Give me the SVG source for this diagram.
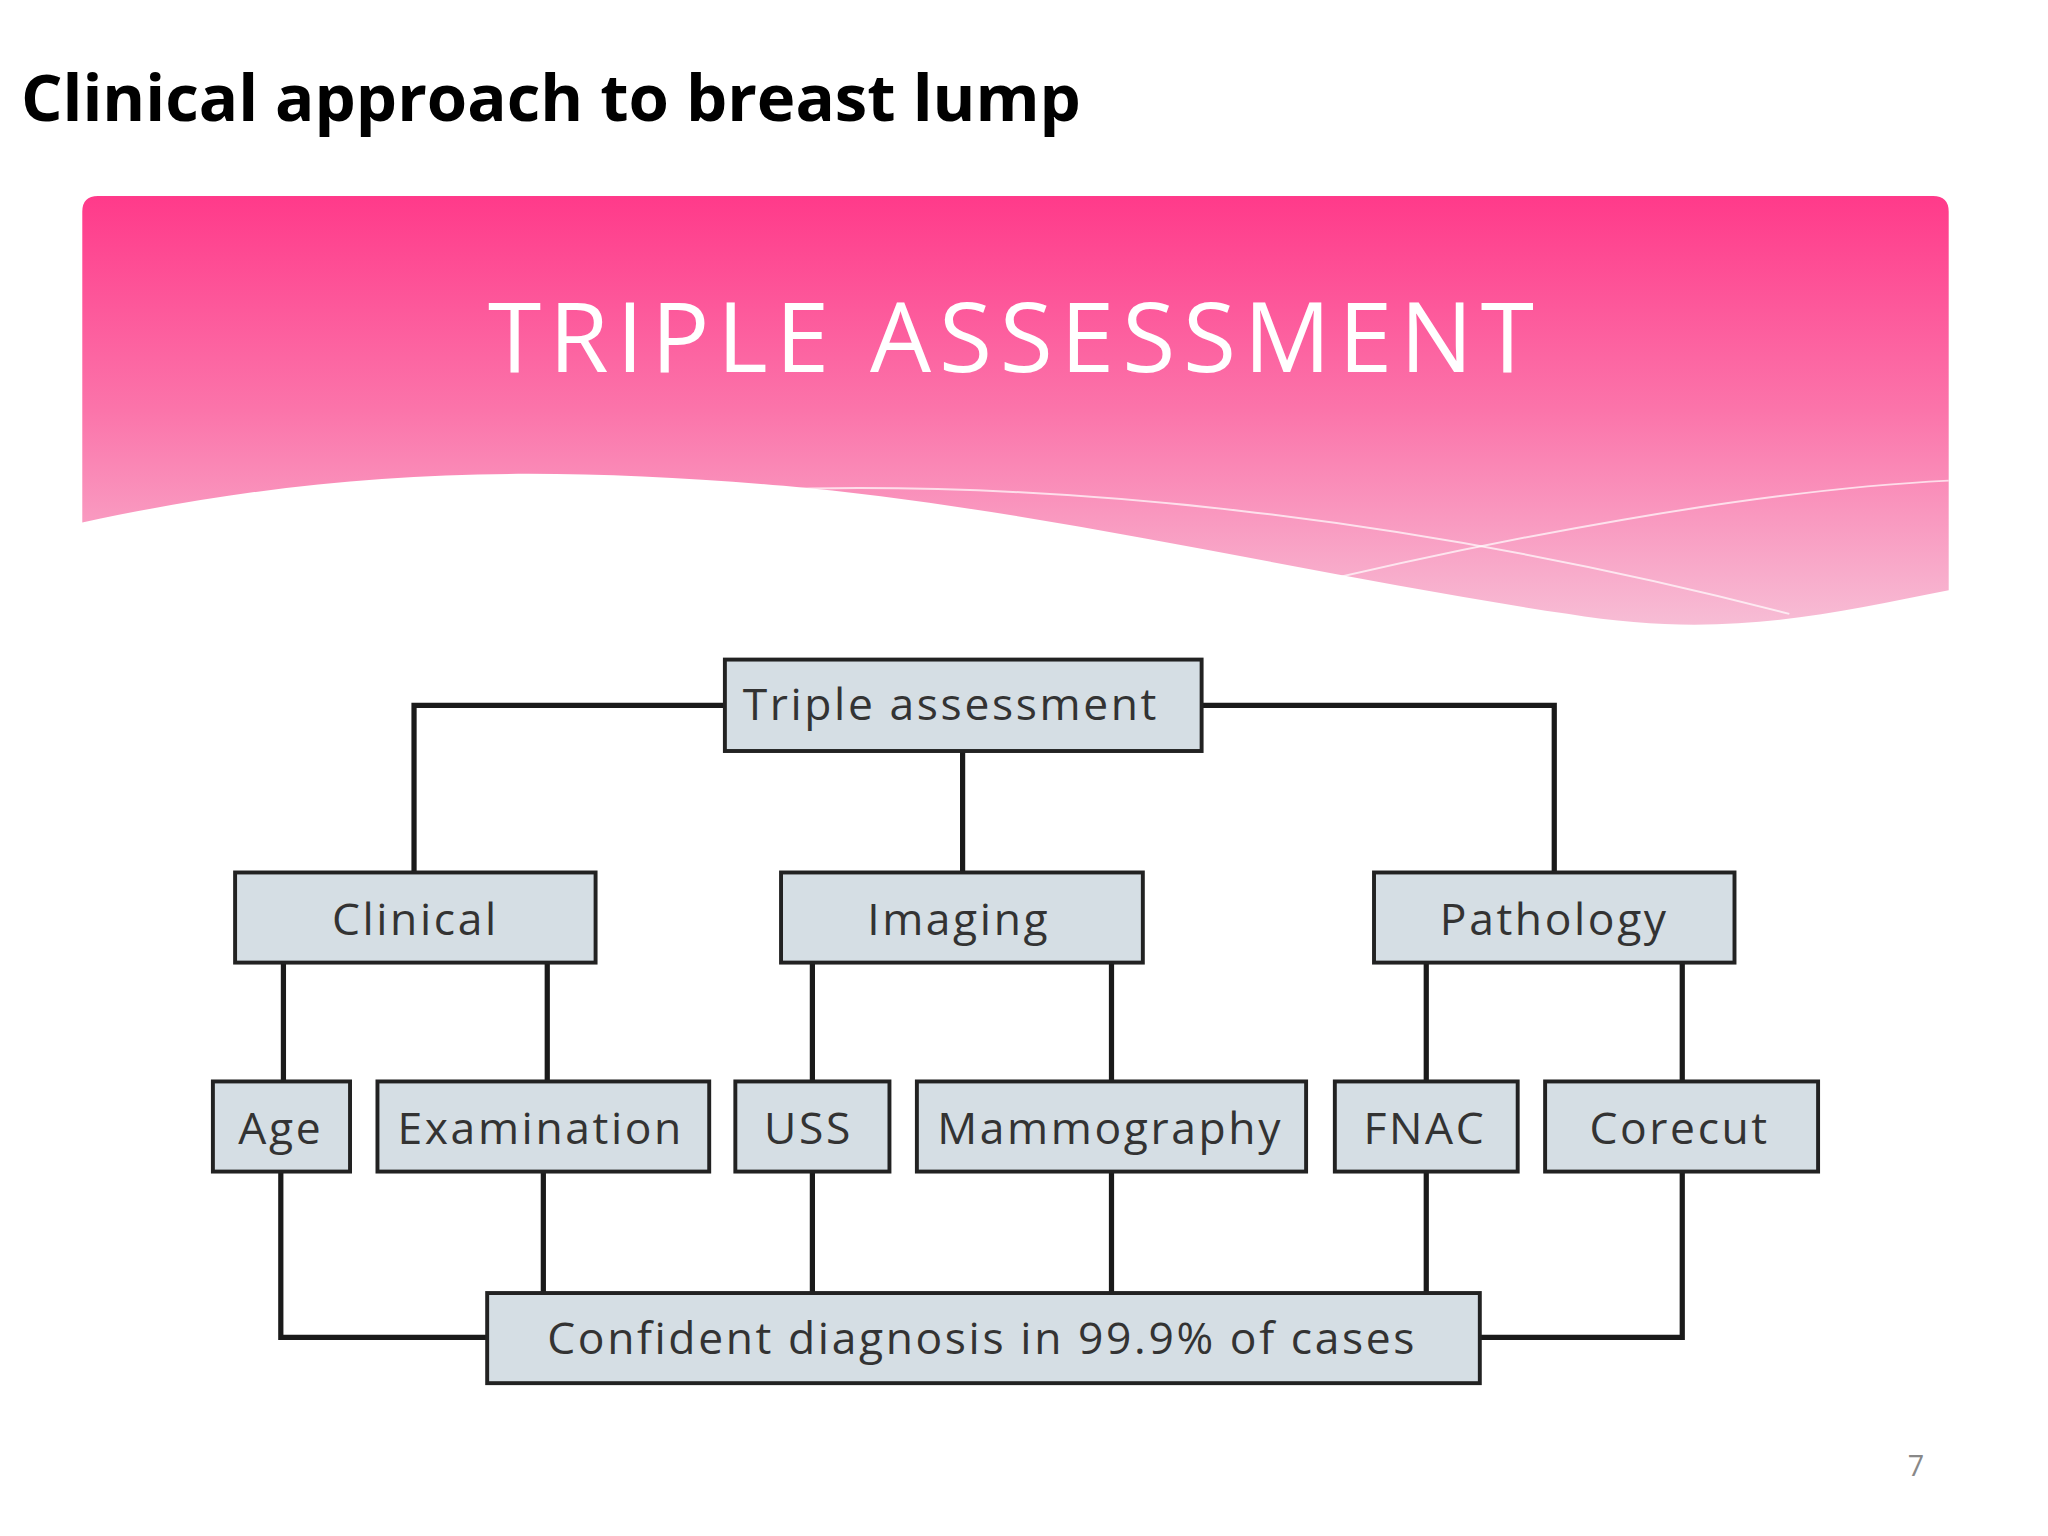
<svg xmlns="http://www.w3.org/2000/svg" width="2048" height="1536" viewBox="0 0 2048 1536">
<style>
.box{fill:#d5dee4;stroke:#222;stroke-width:3}
.lbl{font-family:"Open Sans","Liberation Sans",sans-serif;font-size:34px;fill:#333;text-anchor:middle;letter-spacing:2px}
.ln{fill:none;stroke:#1a1a1a;stroke-width:4}
</style>
<defs>
<linearGradient id="pk" x1="0" y1="0" x2="0" y2="1">
<stop offset="0" stop-color="#ff3a8a"/>
<stop offset="0.5" stop-color="#fb74aa"/>
<stop offset="1" stop-color="#f7bdd5"/>
</linearGradient>
</defs>
<rect width="2048" height="1536" fill="#fff"/>
<g transform="scale(1.3061)">
<text x="16" y="93" font-family="'Open Sans','Liberation Sans',sans-serif" font-weight="bold" font-size="50" fill="#000">Clinical approach to breast lump</text>
<g id="banner">
<path d="M75,150 H1480 Q1492,150 1492,162 V452 C1400,470 1320,490 1200,470 C1000,440 800,390 600,372 C400,355 250,360 63,400 V162 Q63,150 75,150 Z" fill="url(#pk)"/>
<path d="M520,378 C800,360 1100,400 1370,470" fill="none" stroke="#fff" stroke-width="1.5" opacity="0.7"/>
<path d="M950,460 C1150,410 1350,375 1492,368" fill="none" stroke="#fff" stroke-width="1.5" opacity="0.7"/>
<text x="777" y="285" text-anchor="middle" font-family="'Open Sans','Liberation Sans',sans-serif" font-size="74" letter-spacing="6" fill="#fff">TRIPLE ASSESSMENT</text>
</g>
<g id="connectors">
<path class="ln" d="M555,540 H317 V668"/>
<path class="ln" d="M920,540 H1190 V668"/>
<path class="ln" d="M737,575 V668"/>
<path class="ln" d="M217,737 V828 M419,737 V828 M622,737 V828 M851,737 V828 M1092,737 V828 M1288,737 V828"/>
<path class="ln" d="M215,897 V1024 H373"/>
<path class="ln" d="M1288,897 V1024 H1133"/>
<path class="ln" d="M416,897 V990 M622,897 V990 M851,897 V990 M1092,897 V990"/>
</g>
<g id="triple"><rect class="box" x="555" y="505" width="365" height="70"/><text class="lbl" x="728" y="551">Triple assessment</text></g>
<g id="clinical"><rect class="box" x="180" y="668" width="276" height="69"/><text class="lbl" x="318" y="716">Clinical</text></g>
<g id="imaging"><rect class="box" x="598" y="668" width="277" height="69"/><text class="lbl" x="734" y="716">Imaging</text></g>
<g id="pathology"><rect class="box" x="1052" y="668" width="276" height="69"/><text class="lbl" x="1190" y="716">Pathology</text></g>
<g id="age"><rect class="box" x="163" y="828" width="105" height="69"/><text class="lbl" x="215" y="876">Age</text></g>
<g id="examination"><rect class="box" x="289" y="828" width="254" height="69"/><text class="lbl" x="414" y="876">Examination</text></g>
<g id="uss"><rect class="box" x="563" y="828" width="118" height="69"/><text class="lbl" x="619" y="876">USS</text></g>
<g id="mammography"><rect class="box" x="702" y="828" width="298" height="69"/><text class="lbl" x="850" y="876">Mammography</text></g>
<g id="fnac"><rect class="box" x="1022" y="828" width="140" height="69"/><text class="lbl" x="1091" y="876">FNAC</text></g>
<g id="corecut"><rect class="box" x="1183" y="828" width="209" height="69"/><text class="lbl" x="1286" y="876">Corecut</text></g>
<g id="confident"><rect class="box" x="373" y="990" width="760" height="69"/><text class="lbl" x="752" y="1037">Confident diagnosis in 99.9% of cases</text></g>
<text x="1467" y="1130" text-anchor="middle" font-family="'Open Sans','Liberation Sans',sans-serif" font-size="22" fill="#888">7</text>
</g>
</svg>
